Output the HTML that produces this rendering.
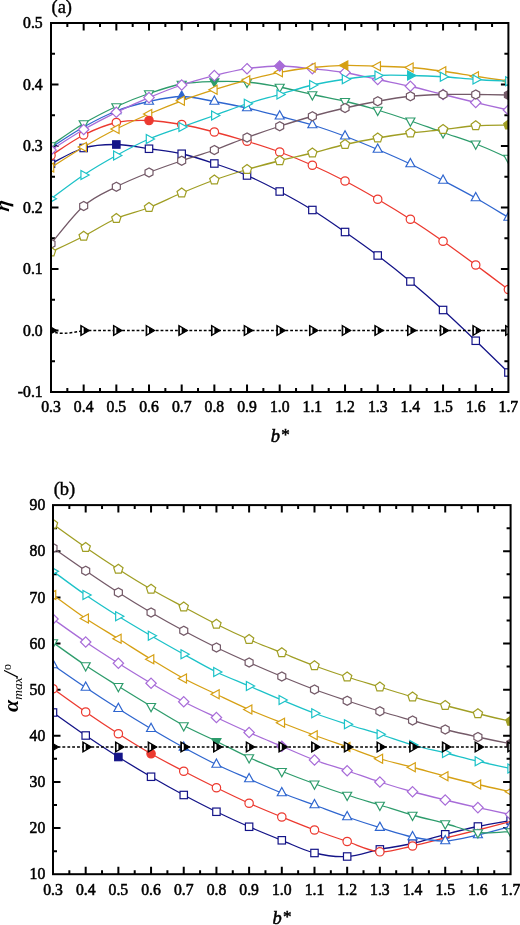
<!DOCTYPE html>
<html><head><meta charset="utf-8"><title>plot</title>
<style>
html,body{margin:0;padding:0;background:#fff;}
body{width:520px;height:925px;overflow:hidden;position:relative;}
svg{position:absolute;left:0;top:0;}
.tl{font-family:"Liberation Serif",serif;font-size:15.7px;fill:#000;stroke:#000;stroke-width:0.55px;}
.pl{font-family:"Liberation Serif",serif;font-size:18.5px;fill:#000;stroke:#000;stroke-width:0.4px;}
.bx{font-family:"Liberation Serif",serif;font-style:italic;font-size:18.5px;fill:#000;stroke:#000;stroke-width:0.5px;}
.ax{font-family:"Liberation Serif",serif;font-weight:bold;font-style:italic;font-size:20px;fill:#000;}
</style></head><body>
<svg width="520" height="925" viewBox="0 0 520 925">
<text x="51.5" y="13.1" class="pl">(a)</text>
<text x="53.7" y="494.8" class="pl">(b)</text>
<text transform="translate(8.7,206.5) rotate(-90) skewX(-8)" text-anchor="middle" class="ax" font-size="22px">&#951;</text>
<text x="280.3" y="442.3" text-anchor="middle" class="bx">b<tspan font-style="normal" dx="1.3" dy="-1.9" font-size="17px">*</tspan></text>
<text x="282" y="923.8" text-anchor="middle" class="bx">b<tspan font-style="normal" dx="1.3" dy="-1.9" font-size="17px">*</tspan></text>
<text transform="translate(18,688) rotate(-90)" text-anchor="middle" class="ax"><tspan font-size="22px">&#945;</tspan><tspan font-size="13.5px" font-weight="normal" dy="4">max</tspan><tspan dy="-4" dx="0.5">/</tspan><tspan font-style="normal" font-weight="normal" font-size="12px" dy="-7" dx="1.2">o</tspan></text>
<path d="M83.67,23v7.5M83.67,392v-7.5M116.34,23v7.5M116.34,392v-7.5M149.01,23v7.5M149.01,392v-7.5M181.69,23v7.5M181.69,392v-7.5M214.36,23v7.5M214.36,392v-7.5M247.03,23v7.5M247.03,392v-7.5M279.7,23v7.5M279.7,392v-7.5M312.37,23v7.5M312.37,392v-7.5M345.04,23v7.5M345.04,392v-7.5M377.71,23v7.5M377.71,392v-7.5M410.39,23v7.5M410.39,392v-7.5M443.06,23v7.5M443.06,392v-7.5M475.73,23v7.5M475.73,392v-7.5M67.34,23v4M67.34,392v-4M100.01,23v4M100.01,392v-4M132.68,23v4M132.68,392v-4M165.35,23v4M165.35,392v-4M198.02,23v4M198.02,392v-4M230.69,23v4M230.69,392v-4M263.36,23v4M263.36,392v-4M296.04,23v4M296.04,392v-4M328.71,23v4M328.71,392v-4M361.38,23v4M361.38,392v-4M394.05,23v4M394.05,392v-4M426.72,23v4M426.72,392v-4M459.39,23v4M459.39,392v-4M492.06,23v4M492.06,392v-4M51,330.5h7.5M508.4,330.5h-7.5M51,269h7.5M508.4,269h-7.5M51,207.5h7.5M508.4,207.5h-7.5M51,146h7.5M508.4,146h-7.5M51,84.5h7.5M508.4,84.5h-7.5M51,361.25h4M508.4,361.25h-4M51,299.75h4M508.4,299.75h-4M51,238.25h4M508.4,238.25h-4M51,176.75h4M508.4,176.75h-4M51,115.25h4M508.4,115.25h-4M51,53.75h4M508.4,53.75h-4" stroke="#000" stroke-width="2" fill="none"/>
<clipPath id="ca"><rect x="51" y="23" width="457.4" height="369"/></clipPath>
<g clip-path="url(#ca)">
<path d="M51,163.75C56.45,161.12 72.78,151.21 83.67,148C94.56,144.79 105.45,144.38 116.34,144.5C127.23,144.62 138.12,147.21 149.01,148.75C159.9,150.29 170.8,151.29 181.69,153.75C192.58,156.21 203.47,159.88 214.36,163.5C225.25,167.12 236.14,170.83 247.03,175.5C257.92,180.17 268.81,185.75 279.7,191.5C290.59,197.25 301.48,203.25 312.37,210C323.26,216.75 334.15,224.42 345.04,232C355.93,239.58 366.82,247.25 377.71,255.5C388.6,263.75 399.5,272.42 410.39,281.5C421.28,290.58 432.17,300.12 443.06,310C453.95,319.88 464.84,330.33 475.73,340.75C486.62,351.17 502.95,367.21 508.4,372.5" fill="none" stroke="#141488" stroke-width="1.3"/>
<rect x="47.3" y="160.05" width="7.4" height="7.4" fill="#fff" stroke="#141488" stroke-width="1.2"/>
<rect x="79.97" y="144.3" width="7.4" height="7.4" fill="#fff" stroke="#141488" stroke-width="1.2"/>
<rect x="112.64" y="140.8" width="7.4" height="7.4" fill="#141488" stroke="#141488" stroke-width="1.2"/>
<rect x="145.31" y="145.05" width="7.4" height="7.4" fill="#fff" stroke="#141488" stroke-width="1.2"/>
<rect x="177.99" y="150.05" width="7.4" height="7.4" fill="#fff" stroke="#141488" stroke-width="1.2"/>
<rect x="210.66" y="159.8" width="7.4" height="7.4" fill="#fff" stroke="#141488" stroke-width="1.2"/>
<rect x="243.33" y="171.8" width="7.4" height="7.4" fill="#fff" stroke="#141488" stroke-width="1.2"/>
<rect x="276" y="187.8" width="7.4" height="7.4" fill="#fff" stroke="#141488" stroke-width="1.2"/>
<rect x="308.67" y="206.3" width="7.4" height="7.4" fill="#fff" stroke="#141488" stroke-width="1.2"/>
<rect x="341.34" y="228.3" width="7.4" height="7.4" fill="#fff" stroke="#141488" stroke-width="1.2"/>
<rect x="374.01" y="251.8" width="7.4" height="7.4" fill="#fff" stroke="#141488" stroke-width="1.2"/>
<rect x="406.69" y="277.8" width="7.4" height="7.4" fill="#fff" stroke="#141488" stroke-width="1.2"/>
<rect x="439.36" y="306.3" width="7.4" height="7.4" fill="#fff" stroke="#141488" stroke-width="1.2"/>
<rect x="472.03" y="337.05" width="7.4" height="7.4" fill="#fff" stroke="#141488" stroke-width="1.2"/>
<rect x="504.7" y="368.8" width="7.4" height="7.4" fill="#fff" stroke="#141488" stroke-width="1.2"/>
<path d="M51,155.5C56.45,152.08 72.78,140.5 83.67,135C94.56,129.5 105.45,124.92 116.34,122.5C127.23,120.08 138.12,120.17 149.01,120.5C159.9,120.83 170.8,122.58 181.69,124.5C192.58,126.42 203.47,129.21 214.36,132C225.25,134.79 236.14,137.92 247.03,141.25C257.92,144.58 268.81,148 279.7,152C290.59,156 301.48,160.42 312.37,165.25C323.26,170.08 334.15,175.33 345.04,181C355.93,186.67 366.82,192.88 377.71,199.25C388.6,205.62 399.5,212.25 410.39,219.25C421.28,226.25 432.17,233.62 443.06,241.25C453.95,248.88 464.84,256.96 475.73,265C486.62,273.04 502.95,285.42 508.4,289.5" fill="none" stroke="#ec3a30" stroke-width="1.3"/>
<circle cx="51" cy="155.5" r="4.2" fill="#fff" stroke="#ec3a30" stroke-width="1.2"/>
<circle cx="83.67" cy="135" r="4.2" fill="#fff" stroke="#ec3a30" stroke-width="1.2"/>
<circle cx="116.34" cy="122.5" r="4.2" fill="#fff" stroke="#ec3a30" stroke-width="1.2"/>
<circle cx="181.69" cy="124.5" r="4.2" fill="#fff" stroke="#ec3a30" stroke-width="1.2"/>
<circle cx="214.36" cy="132" r="4.2" fill="#fff" stroke="#ec3a30" stroke-width="1.2"/>
<circle cx="247.03" cy="141.25" r="4.2" fill="#fff" stroke="#ec3a30" stroke-width="1.2"/>
<circle cx="279.7" cy="152" r="4.2" fill="#fff" stroke="#ec3a30" stroke-width="1.2"/>
<circle cx="312.37" cy="165.25" r="4.2" fill="#fff" stroke="#ec3a30" stroke-width="1.2"/>
<circle cx="345.04" cy="181" r="4.2" fill="#fff" stroke="#ec3a30" stroke-width="1.2"/>
<circle cx="377.71" cy="199.25" r="4.2" fill="#fff" stroke="#ec3a30" stroke-width="1.2"/>
<circle cx="410.39" cy="219.25" r="4.2" fill="#fff" stroke="#ec3a30" stroke-width="1.2"/>
<circle cx="443.06" cy="241.25" r="4.2" fill="#fff" stroke="#ec3a30" stroke-width="1.2"/>
<circle cx="475.73" cy="265" r="4.2" fill="#fff" stroke="#ec3a30" stroke-width="1.2"/>
<circle cx="508.4" cy="289.5" r="4.2" fill="#fff" stroke="#ec3a30" stroke-width="1.2"/>
<path d="M51,147.5C56.45,144.08 72.78,133.08 83.67,127C94.56,120.92 105.45,115.25 116.34,111C127.23,106.75 138.12,103.92 149.01,101.5C159.9,99.08 170.8,96.5 181.69,96.5C192.58,96.5 203.47,99.58 214.36,101.5C225.25,103.42 236.14,105.54 247.03,108C257.92,110.46 268.81,113.42 279.7,116.25C290.59,119.08 301.48,121.67 312.37,125C323.26,128.33 334.15,132.17 345.04,136.25C355.93,140.33 366.82,144.88 377.71,149.5C388.6,154.12 399.5,158.83 410.39,164C421.28,169.17 432.17,174.83 443.06,180.5C453.95,186.17 464.84,191.83 475.73,198C486.62,204.17 502.95,214.25 508.4,217.5" fill="none" stroke="#2f66cf" stroke-width="1.3"/>
<polygon points="51,142.03 55.5,150.23 46.5,150.23" fill="#fff" stroke="#2f66cf" stroke-width="1.2"/>
<polygon points="83.67,121.53 88.17,129.73 79.17,129.73" fill="#fff" stroke="#2f66cf" stroke-width="1.2"/>
<polygon points="116.34,105.53 120.84,113.73 111.84,113.73" fill="#fff" stroke="#2f66cf" stroke-width="1.2"/>
<polygon points="149.01,96.03 153.51,104.23 144.51,104.23" fill="#fff" stroke="#2f66cf" stroke-width="1.2"/>
<polygon points="181.69,91.03 186.19,99.23 177.19,99.23" fill="#2f66cf" stroke="#2f66cf" stroke-width="1.2"/>
<polygon points="214.36,96.03 218.86,104.23 209.86,104.23" fill="#fff" stroke="#2f66cf" stroke-width="1.2"/>
<polygon points="247.03,102.53 251.53,110.73 242.53,110.73" fill="#fff" stroke="#2f66cf" stroke-width="1.2"/>
<polygon points="279.7,110.78 284.2,118.98 275.2,118.98" fill="#fff" stroke="#2f66cf" stroke-width="1.2"/>
<polygon points="312.37,119.53 316.87,127.73 307.87,127.73" fill="#fff" stroke="#2f66cf" stroke-width="1.2"/>
<polygon points="345.04,130.78 349.54,138.98 340.54,138.98" fill="#fff" stroke="#2f66cf" stroke-width="1.2"/>
<polygon points="377.71,144.03 382.21,152.23 373.21,152.23" fill="#fff" stroke="#2f66cf" stroke-width="1.2"/>
<polygon points="410.39,158.53 414.89,166.73 405.89,166.73" fill="#fff" stroke="#2f66cf" stroke-width="1.2"/>
<polygon points="443.06,175.03 447.56,183.23 438.56,183.23" fill="#fff" stroke="#2f66cf" stroke-width="1.2"/>
<polygon points="475.73,192.53 480.23,200.73 471.23,200.73" fill="#fff" stroke="#2f66cf" stroke-width="1.2"/>
<polygon points="508.4,212.03 512.9,220.23 503.9,220.23" fill="#fff" stroke="#2f66cf" stroke-width="1.2"/>
<path d="M51,145.5C56.45,141.83 72.78,130 83.67,123.5C94.56,117 105.45,111.5 116.34,106.5C127.23,101.5 138.12,97.25 149.01,93.5C159.9,89.75 170.8,86 181.69,84C192.58,82 203.47,81.83 214.36,81.5C225.25,81.17 236.14,81.08 247.03,82C257.92,82.92 268.81,84.92 279.7,87C290.59,89.08 301.48,92.12 312.37,94.5C323.26,96.88 334.15,98.67 345.04,101.25C355.93,103.83 366.82,106.75 377.71,110C388.6,113.25 399.5,117 410.39,120.75C421.28,124.5 432.17,128.67 443.06,132.5C453.95,136.33 464.84,139.5 475.73,143.75C486.62,148 502.95,155.62 508.4,158" fill="none" stroke="#2e9c6c" stroke-width="1.3"/>
<polygon points="51,150.97 55.5,142.77 46.5,142.77" fill="#fff" stroke="#2e9c6c" stroke-width="1.2"/>
<polygon points="83.67,128.97 88.17,120.77 79.17,120.77" fill="#fff" stroke="#2e9c6c" stroke-width="1.2"/>
<polygon points="116.34,111.97 120.84,103.77 111.84,103.77" fill="#fff" stroke="#2e9c6c" stroke-width="1.2"/>
<polygon points="149.01,98.97 153.51,90.77 144.51,90.77" fill="#fff" stroke="#2e9c6c" stroke-width="1.2"/>
<polygon points="181.69,89.47 186.19,81.27 177.19,81.27" fill="#fff" stroke="#2e9c6c" stroke-width="1.2"/>
<polygon points="214.36,86.97 218.86,78.77 209.86,78.77" fill="#2e9c6c" stroke="#2e9c6c" stroke-width="1.2"/>
<polygon points="247.03,87.47 251.53,79.27 242.53,79.27" fill="#fff" stroke="#2e9c6c" stroke-width="1.2"/>
<polygon points="279.7,92.47 284.2,84.27 275.2,84.27" fill="#fff" stroke="#2e9c6c" stroke-width="1.2"/>
<polygon points="312.37,99.97 316.87,91.77 307.87,91.77" fill="#fff" stroke="#2e9c6c" stroke-width="1.2"/>
<polygon points="345.04,106.72 349.54,98.52 340.54,98.52" fill="#fff" stroke="#2e9c6c" stroke-width="1.2"/>
<polygon points="377.71,115.47 382.21,107.27 373.21,107.27" fill="#fff" stroke="#2e9c6c" stroke-width="1.2"/>
<polygon points="410.39,126.22 414.89,118.02 405.89,118.02" fill="#fff" stroke="#2e9c6c" stroke-width="1.2"/>
<polygon points="443.06,137.97 447.56,129.77 438.56,129.77" fill="#fff" stroke="#2e9c6c" stroke-width="1.2"/>
<polygon points="475.73,149.22 480.23,141.02 471.23,141.02" fill="#fff" stroke="#2e9c6c" stroke-width="1.2"/>
<polygon points="508.4,163.47 512.9,155.27 503.9,155.27" fill="#fff" stroke="#2e9c6c" stroke-width="1.2"/>
<path d="M51,150C56.45,146.58 72.78,135.78 83.67,129.5C94.56,123.22 105.45,117.62 116.34,112.3C127.23,106.98 138.12,102.15 149.01,97.6C159.9,93.05 170.8,88.67 181.69,85C192.58,81.33 203.47,78.32 214.36,75.6C225.25,72.88 236.14,70.3 247.03,68.7C257.92,67.1 268.81,65.99 279.7,66C290.59,66.01 301.48,67.67 312.37,68.75C323.26,69.83 334.15,70.71 345.04,72.5C355.93,74.29 366.82,77.21 377.71,79.5C388.6,81.79 399.5,83.75 410.39,86.25C421.28,88.75 432.17,91.79 443.06,94.5C453.95,97.21 464.84,99.92 475.73,102.5C486.62,105.08 502.95,108.75 508.4,110" fill="none" stroke="#a86cd8" stroke-width="1.3"/>
<polygon points="51,144.8 56.2,150 51,155.2 45.8,150" fill="#fff" stroke="#a86cd8" stroke-width="1.2"/>
<polygon points="83.67,124.3 88.87,129.5 83.67,134.7 78.47,129.5" fill="#fff" stroke="#a86cd8" stroke-width="1.2"/>
<polygon points="116.34,107.1 121.54,112.3 116.34,117.5 111.14,112.3" fill="#fff" stroke="#a86cd8" stroke-width="1.2"/>
<polygon points="149.01,92.4 154.21,97.6 149.01,102.8 143.81,97.6" fill="#fff" stroke="#a86cd8" stroke-width="1.2"/>
<polygon points="181.69,79.8 186.89,85 181.69,90.2 176.49,85" fill="#fff" stroke="#a86cd8" stroke-width="1.2"/>
<polygon points="214.36,70.4 219.56,75.6 214.36,80.8 209.16,75.6" fill="#fff" stroke="#a86cd8" stroke-width="1.2"/>
<polygon points="247.03,63.5 252.23,68.7 247.03,73.9 241.83,68.7" fill="#fff" stroke="#a86cd8" stroke-width="1.2"/>
<polygon points="312.37,63.55 317.57,68.75 312.37,73.95 307.17,68.75" fill="#fff" stroke="#a86cd8" stroke-width="1.2"/>
<polygon points="345.04,67.3 350.24,72.5 345.04,77.7 339.84,72.5" fill="#fff" stroke="#a86cd8" stroke-width="1.2"/>
<polygon points="377.71,74.3 382.91,79.5 377.71,84.7 372.51,79.5" fill="#fff" stroke="#a86cd8" stroke-width="1.2"/>
<polygon points="410.39,81.05 415.59,86.25 410.39,91.45 405.19,86.25" fill="#fff" stroke="#a86cd8" stroke-width="1.2"/>
<polygon points="443.06,89.3 448.26,94.5 443.06,99.7 437.86,94.5" fill="#fff" stroke="#a86cd8" stroke-width="1.2"/>
<polygon points="475.73,97.3 480.93,102.5 475.73,107.7 470.53,102.5" fill="#fff" stroke="#a86cd8" stroke-width="1.2"/>
<polygon points="508.4,104.8 513.6,110 508.4,115.2 503.2,110" fill="#fff" stroke="#a86cd8" stroke-width="1.2"/>
<path d="M51,167.5C56.45,164.08 72.78,153.42 83.67,147C94.56,140.58 105.45,134.5 116.34,129C127.23,123.5 138.12,118.7 149.01,114C159.9,109.3 170.8,104.85 181.69,100.8C192.58,96.75 203.47,93.13 214.36,89.7C225.25,86.27 236.14,83.1 247.03,80.2C257.92,77.3 268.81,74.42 279.7,72.3C290.59,70.18 301.48,68.65 312.37,67.5C323.26,66.35 334.15,65.61 345.04,65.4C355.93,65.19 366.82,65.9 377.71,66.25C388.6,66.6 399.5,66.67 410.39,67.5C421.28,68.33 432.17,69.79 443.06,71.25C453.95,72.71 464.84,74.62 475.73,76.25C486.62,77.88 502.95,80.21 508.4,81" fill="none" stroke="#d6a014" stroke-width="1.3"/>
<polygon points="45.53,167.5 53.73,163 53.73,172" fill="#fff" stroke="#d6a014" stroke-width="1.2"/>
<polygon points="78.2,147 86.4,142.5 86.4,151.5" fill="#fff" stroke="#d6a014" stroke-width="1.2"/>
<polygon points="110.88,129 119.08,124.5 119.08,133.5" fill="#fff" stroke="#d6a014" stroke-width="1.2"/>
<polygon points="143.55,114 151.75,109.5 151.75,118.5" fill="#fff" stroke="#d6a014" stroke-width="1.2"/>
<polygon points="176.22,100.8 184.42,96.3 184.42,105.3" fill="#fff" stroke="#d6a014" stroke-width="1.2"/>
<polygon points="208.89,89.7 217.09,85.2 217.09,94.2" fill="#fff" stroke="#d6a014" stroke-width="1.2"/>
<polygon points="241.56,80.2 249.76,75.7 249.76,84.7" fill="#fff" stroke="#d6a014" stroke-width="1.2"/>
<polygon points="274.23,72.3 282.43,67.8 282.43,76.8" fill="#fff" stroke="#d6a014" stroke-width="1.2"/>
<polygon points="306.9,67.5 315.1,63 315.1,72" fill="#fff" stroke="#d6a014" stroke-width="1.2"/>
<polygon points="339.58,65.4 347.78,60.9 347.78,69.9" fill="#d6a014" stroke="#d6a014" stroke-width="1.2"/>
<polygon points="372.25,66.25 380.45,61.75 380.45,70.75" fill="#fff" stroke="#d6a014" stroke-width="1.2"/>
<polygon points="404.92,67.5 413.12,63 413.12,72" fill="#fff" stroke="#d6a014" stroke-width="1.2"/>
<polygon points="437.59,71.25 445.79,66.75 445.79,75.75" fill="#fff" stroke="#d6a014" stroke-width="1.2"/>
<polygon points="470.26,76.25 478.46,71.75 478.46,80.75" fill="#fff" stroke="#d6a014" stroke-width="1.2"/>
<polygon points="502.93,81 511.13,76.5 511.13,85.5" fill="#fff" stroke="#d6a014" stroke-width="1.2"/>
<path d="M51,198.75C56.45,194.79 72.78,182.21 83.67,175C94.56,167.79 105.45,161.5 116.34,155.5C127.23,149.5 138.12,143.75 149.01,139C159.9,134.25 170.8,130.92 181.69,127C192.58,123.08 203.47,119.38 214.36,115.5C225.25,111.62 236.14,107.25 247.03,103.75C257.92,100.25 268.81,97.62 279.7,94.5C290.59,91.38 301.48,87.54 312.37,85C323.26,82.46 334.15,80.83 345.04,79.25C355.93,77.67 366.82,76.12 377.71,75.5C388.6,74.88 399.5,75.29 410.39,75.5C421.28,75.71 432.17,76.08 443.06,76.75C453.95,77.42 464.84,78.75 475.73,79.5C486.62,80.25 502.95,80.96 508.4,81.25" fill="none" stroke="#1cc2c8" stroke-width="1.3"/>
<polygon points="56.47,198.75 48.27,194.25 48.27,203.25" fill="#fff" stroke="#1cc2c8" stroke-width="1.2"/>
<polygon points="89.14,175 80.94,170.5 80.94,179.5" fill="#fff" stroke="#1cc2c8" stroke-width="1.2"/>
<polygon points="121.81,155.5 113.61,151 113.61,160" fill="#fff" stroke="#1cc2c8" stroke-width="1.2"/>
<polygon points="154.48,139 146.28,134.5 146.28,143.5" fill="#fff" stroke="#1cc2c8" stroke-width="1.2"/>
<polygon points="187.15,127 178.95,122.5 178.95,131.5" fill="#fff" stroke="#1cc2c8" stroke-width="1.2"/>
<polygon points="219.82,115.5 211.62,111 211.62,120" fill="#fff" stroke="#1cc2c8" stroke-width="1.2"/>
<polygon points="252.5,103.75 244.3,99.25 244.3,108.25" fill="#fff" stroke="#1cc2c8" stroke-width="1.2"/>
<polygon points="285.17,94.5 276.97,90 276.97,99" fill="#fff" stroke="#1cc2c8" stroke-width="1.2"/>
<polygon points="317.84,85 309.64,80.5 309.64,89.5" fill="#fff" stroke="#1cc2c8" stroke-width="1.2"/>
<polygon points="350.51,79.25 342.31,74.75 342.31,83.75" fill="#fff" stroke="#1cc2c8" stroke-width="1.2"/>
<polygon points="383.18,75.5 374.98,71 374.98,80" fill="#fff" stroke="#1cc2c8" stroke-width="1.2"/>
<polygon points="415.85,75.5 407.65,71 407.65,80" fill="#1cc2c8" stroke="#1cc2c8" stroke-width="1.2"/>
<polygon points="448.52,76.75 440.32,72.25 440.32,81.25" fill="#fff" stroke="#1cc2c8" stroke-width="1.2"/>
<polygon points="481.2,79.5 473,75 473,84" fill="#fff" stroke="#1cc2c8" stroke-width="1.2"/>
<polygon points="513.87,81.25 505.67,76.75 505.67,85.75" fill="#fff" stroke="#1cc2c8" stroke-width="1.2"/>
<path d="M51,243.75C56.45,237.46 72.78,215.5 83.67,206C94.56,196.5 105.45,192.33 116.34,186.75C127.23,181.17 138.12,176.83 149.01,172.5C159.9,168.17 170.8,164.5 181.69,160.75C192.58,157 203.47,153.88 214.36,150C225.25,146.12 236.14,141.46 247.03,137.5C257.92,133.54 268.81,129.79 279.7,126.25C290.59,122.71 301.48,119.29 312.37,116.25C323.26,113.21 334.15,110.5 345.04,108C355.93,105.5 366.82,103.21 377.71,101.25C388.6,99.29 399.5,97.38 410.39,96.25C421.28,95.12 432.17,94.79 443.06,94.5C453.95,94.21 464.84,94.42 475.73,94.5C486.62,94.58 502.95,94.92 508.4,95" fill="none" stroke="#745a68" stroke-width="1.3"/>
<polygon points="51,239.15 47.02,241.45 47.02,246.05 51,248.35 54.98,246.05 54.98,241.45" fill="#fff" stroke="#745a68" stroke-width="1.2"/>
<polygon points="83.67,201.4 79.69,203.7 79.69,208.3 83.67,210.6 87.66,208.3 87.66,203.7" fill="#fff" stroke="#745a68" stroke-width="1.2"/>
<polygon points="116.34,182.15 112.36,184.45 112.36,189.05 116.34,191.35 120.33,189.05 120.33,184.45" fill="#fff" stroke="#745a68" stroke-width="1.2"/>
<polygon points="149.01,167.9 145.03,170.2 145.03,174.8 149.01,177.1 153,174.8 153,170.2" fill="#fff" stroke="#745a68" stroke-width="1.2"/>
<polygon points="181.69,156.15 177.7,158.45 177.7,163.05 181.69,165.35 185.67,163.05 185.67,158.45" fill="#fff" stroke="#745a68" stroke-width="1.2"/>
<polygon points="214.36,145.4 210.37,147.7 210.37,152.3 214.36,154.6 218.34,152.3 218.34,147.7" fill="#fff" stroke="#745a68" stroke-width="1.2"/>
<polygon points="247.03,132.9 243.04,135.2 243.04,139.8 247.03,142.1 251.01,139.8 251.01,135.2" fill="#fff" stroke="#745a68" stroke-width="1.2"/>
<polygon points="279.7,121.65 275.72,123.95 275.72,128.55 279.7,130.85 283.68,128.55 283.68,123.95" fill="#fff" stroke="#745a68" stroke-width="1.2"/>
<polygon points="312.37,111.65 308.39,113.95 308.39,118.55 312.37,120.85 316.36,118.55 316.36,113.95" fill="#fff" stroke="#745a68" stroke-width="1.2"/>
<polygon points="345.04,103.4 341.06,105.7 341.06,110.3 345.04,112.6 349.03,110.3 349.03,105.7" fill="#fff" stroke="#745a68" stroke-width="1.2"/>
<polygon points="377.71,96.65 373.73,98.95 373.73,103.55 377.71,105.85 381.7,103.55 381.7,98.95" fill="#fff" stroke="#745a68" stroke-width="1.2"/>
<polygon points="410.39,91.65 406.4,93.95 406.4,98.55 410.39,100.85 414.37,98.55 414.37,93.95" fill="#fff" stroke="#745a68" stroke-width="1.2"/>
<polygon points="443.06,89.9 439.07,92.2 439.07,96.8 443.06,99.1 447.04,96.8 447.04,92.2" fill="#fff" stroke="#745a68" stroke-width="1.2"/>
<polygon points="475.73,89.9 471.74,92.2 471.74,96.8 475.73,99.1 479.71,96.8 479.71,92.2" fill="#fff" stroke="#745a68" stroke-width="1.2"/>
<polygon points="508.4,90.4 504.42,92.7 504.42,97.3 508.4,99.6 512.38,97.3 512.38,92.7" fill="#745a68" stroke="#745a68" stroke-width="1.2"/>
<path d="M51,252C56.45,249.38 72.78,241.83 83.67,236.25C94.56,230.67 105.45,223.29 116.34,218.5C127.23,213.71 138.12,211.75 149.01,207.5C159.9,203.25 170.8,197.58 181.69,193C192.58,188.42 203.47,183.92 214.36,180C225.25,176.08 236.14,172.71 247.03,169.5C257.92,166.29 268.81,163.5 279.7,160.75C290.59,158 301.48,155.71 312.37,153C323.26,150.29 334.15,147 345.04,144.5C355.93,142 366.82,139.92 377.71,138C388.6,136.08 399.5,134.42 410.39,133C421.28,131.58 432.17,130.71 443.06,129.5C453.95,128.29 464.84,126.5 475.73,125.75C486.62,125 502.95,125.12 508.4,125" fill="none" stroke="#a09e24" stroke-width="1.3"/>
<polygon points="51,247.1 46.34,250.49 48.12,255.96 53.88,255.96 55.66,250.49" fill="#fff" stroke="#a09e24" stroke-width="1.2"/>
<polygon points="83.67,231.35 79.01,234.74 80.79,240.21 86.55,240.21 88.33,234.74" fill="#fff" stroke="#a09e24" stroke-width="1.2"/>
<polygon points="116.34,213.6 111.68,216.99 113.46,222.46 119.22,222.46 121,216.99" fill="#fff" stroke="#a09e24" stroke-width="1.2"/>
<polygon points="149.01,202.6 144.35,205.99 146.13,211.46 151.89,211.46 153.67,205.99" fill="#fff" stroke="#a09e24" stroke-width="1.2"/>
<polygon points="181.69,188.1 177.03,191.49 178.81,196.96 184.57,196.96 186.35,191.49" fill="#fff" stroke="#a09e24" stroke-width="1.2"/>
<polygon points="214.36,175.1 209.7,178.49 211.48,183.96 217.24,183.96 219.02,178.49" fill="#fff" stroke="#a09e24" stroke-width="1.2"/>
<polygon points="247.03,164.6 242.37,167.99 244.15,173.46 249.91,173.46 251.69,167.99" fill="#fff" stroke="#a09e24" stroke-width="1.2"/>
<polygon points="279.7,155.85 275.04,159.24 276.82,164.71 282.58,164.71 284.36,159.24" fill="#fff" stroke="#a09e24" stroke-width="1.2"/>
<polygon points="312.37,148.1 307.71,151.49 309.49,156.96 315.25,156.96 317.03,151.49" fill="#fff" stroke="#a09e24" stroke-width="1.2"/>
<polygon points="345.04,139.6 340.38,142.99 342.16,148.46 347.92,148.46 349.7,142.99" fill="#fff" stroke="#a09e24" stroke-width="1.2"/>
<polygon points="377.71,133.1 373.05,136.49 374.83,141.96 380.59,141.96 382.37,136.49" fill="#fff" stroke="#a09e24" stroke-width="1.2"/>
<polygon points="410.39,128.1 405.73,131.49 407.51,136.96 413.27,136.96 415.05,131.49" fill="#fff" stroke="#a09e24" stroke-width="1.2"/>
<polygon points="443.06,124.6 438.4,127.99 440.18,133.46 445.94,133.46 447.72,127.99" fill="#fff" stroke="#a09e24" stroke-width="1.2"/>
<polygon points="475.73,120.85 471.07,124.24 472.85,129.71 478.61,129.71 480.39,124.24" fill="#fff" stroke="#a09e24" stroke-width="1.2"/>
<polygon points="508.4,120.1 503.74,123.49 505.52,128.96 511.28,128.96 513.06,123.49" fill="#a09e24" stroke="#a09e24" stroke-width="1.2"/>
<circle cx="149.01" cy="120.5" r="4.2" fill="#ec3a30" stroke="#ec3a30" stroke-width="1.2"/>
<polygon points="279.7,60.8 284.9,66 279.7,71.2 274.5,66" fill="#a86cd8" stroke="#a86cd8" stroke-width="1.2"/>
<path d="M51,330.4C55.5,335 70.5,333.5 83.7,330.5L508.5,330.5" fill="none" stroke="#000" stroke-width="1.45" stroke-dasharray="2.8,2.0"/>
<polygon points="48.13,325.4 56.73,330.4 48.13,335.4" fill="#000" stroke="#000" stroke-width="1.1"/><polygon points="49.23,327 51,327.97 51,332.83 49.23,333.8" fill="#fff"/>
<polygon points="80.8,325.5 89.4,330.5 80.8,335.5" fill="#000" stroke="#000" stroke-width="1.1"/><polygon points="81.9,327.1 83.67,328.07 83.67,332.93 81.9,333.9" fill="#fff"/>
<polygon points="113.48,325.5 122.08,330.5 113.48,335.5" fill="#000" stroke="#000" stroke-width="1.1"/><polygon points="114.58,327.1 116.34,328.07 116.34,332.93 114.58,333.9" fill="#fff"/>
<polygon points="146.15,325.5 154.75,330.5 146.15,335.5" fill="#000" stroke="#000" stroke-width="1.1"/><polygon points="147.25,327.1 149.01,328.07 149.01,332.93 147.25,333.9" fill="#fff"/>
<polygon points="178.82,325.5 187.42,330.5 178.82,335.5" fill="#000" stroke="#000" stroke-width="1.1"/><polygon points="179.92,327.1 181.69,328.07 181.69,332.93 179.92,333.9" fill="#fff"/>
<polygon points="211.49,325.5 220.09,330.5 211.49,335.5" fill="#000" stroke="#000" stroke-width="1.1"/><polygon points="212.59,327.1 214.36,328.07 214.36,332.93 212.59,333.9" fill="#fff"/>
<polygon points="244.16,325.5 252.76,330.5 244.16,335.5" fill="#000" stroke="#000" stroke-width="1.1"/><polygon points="245.26,327.1 247.03,328.07 247.03,332.93 245.26,333.9" fill="#fff"/>
<polygon points="276.83,325.5 285.43,330.5 276.83,335.5" fill="#000" stroke="#000" stroke-width="1.1"/><polygon points="277.93,327.1 279.7,328.07 279.7,332.93 277.93,333.9" fill="#fff"/>
<polygon points="309.5,325.5 318.1,330.5 309.5,335.5" fill="#000" stroke="#000" stroke-width="1.1"/><polygon points="310.6,327.1 312.37,328.07 312.37,332.93 310.6,333.9" fill="#fff"/>
<polygon points="342.18,325.5 350.78,330.5 342.18,335.5" fill="#000" stroke="#000" stroke-width="1.1"/><polygon points="343.28,327.1 345.04,328.07 345.04,332.93 343.28,333.9" fill="#fff"/>
<polygon points="374.85,325.5 383.45,330.5 374.85,335.5" fill="#000" stroke="#000" stroke-width="1.1"/><polygon points="375.95,327.1 377.71,328.07 377.71,332.93 375.95,333.9" fill="#fff"/>
<polygon points="407.52,325.5 416.12,330.5 407.52,335.5" fill="#000" stroke="#000" stroke-width="1.1"/><polygon points="408.62,327.1 410.39,328.07 410.39,332.93 408.62,333.9" fill="#fff"/>
<polygon points="440.19,325.5 448.79,330.5 440.19,335.5" fill="#000" stroke="#000" stroke-width="1.1"/><polygon points="441.29,327.1 443.06,328.07 443.06,332.93 441.29,333.9" fill="#fff"/>
<polygon points="472.86,325.5 481.46,330.5 472.86,335.5" fill="#000" stroke="#000" stroke-width="1.1"/><polygon points="473.96,327.1 475.73,328.07 475.73,332.93 473.96,333.9" fill="#fff"/>
<polygon points="505.53,325.5 514.13,330.5 505.53,335.5" fill="#000" stroke="#000" stroke-width="1.1"/><polygon points="506.63,327.1 508.4,328.07 508.4,332.93 506.63,333.9" fill="#fff"/>
</g>
<rect x="51" y="23" width="457.4" height="369" fill="none" stroke="#000" stroke-width="2"/>
<text x="42.7" y="28.2" text-anchor="end" class="tl">0.5</text>
<text x="42.7" y="89.7" text-anchor="end" class="tl">0.4</text>
<text x="42.7" y="151.2" text-anchor="end" class="tl">0.3</text>
<text x="42.7" y="212.7" text-anchor="end" class="tl">0.2</text>
<text x="42.7" y="274.2" text-anchor="end" class="tl">0.1</text>
<text x="42.7" y="335.7" text-anchor="end" class="tl">0.0</text>
<text x="42.7" y="397.2" text-anchor="end" class="tl">-0.1</text>
<path d="M85.69,505.1v7.5M85.69,874.2v-7.5M118.37,505.1v7.5M118.37,874.2v-7.5M151.06,505.1v7.5M151.06,874.2v-7.5M183.74,505.1v7.5M183.74,874.2v-7.5M216.43,505.1v7.5M216.43,874.2v-7.5M249.11,505.1v7.5M249.11,874.2v-7.5M281.8,505.1v7.5M281.8,874.2v-7.5M314.49,505.1v7.5M314.49,874.2v-7.5M347.17,505.1v7.5M347.17,874.2v-7.5M379.86,505.1v7.5M379.86,874.2v-7.5M412.54,505.1v7.5M412.54,874.2v-7.5M445.23,505.1v7.5M445.23,874.2v-7.5M477.91,505.1v7.5M477.91,874.2v-7.5M69.34,505.1v4M69.34,874.2v-4M102.03,505.1v4M102.03,874.2v-4M134.71,505.1v4M134.71,874.2v-4M167.4,505.1v4M167.4,874.2v-4M200.09,505.1v4M200.09,874.2v-4M232.77,505.1v4M232.77,874.2v-4M265.46,505.1v4M265.46,874.2v-4M298.14,505.1v4M298.14,874.2v-4M330.83,505.1v4M330.83,874.2v-4M363.51,505.1v4M363.51,874.2v-4M396.2,505.1v4M396.2,874.2v-4M428.89,505.1v4M428.89,874.2v-4M461.57,505.1v4M461.57,874.2v-4M494.26,505.1v4M494.26,874.2v-4M53,828.06h7.5M510.6,828.06h-7.5M53,781.93h7.5M510.6,781.93h-7.5M53,735.79h7.5M510.6,735.79h-7.5M53,689.65h7.5M510.6,689.65h-7.5M53,643.51h7.5M510.6,643.51h-7.5M53,597.38h7.5M510.6,597.38h-7.5M53,551.24h7.5M510.6,551.24h-7.5M53,851.13h4M510.6,851.13h-4M53,804.99h4M510.6,804.99h-4M53,758.86h4M510.6,758.86h-4M53,712.72h4M510.6,712.72h-4M53,666.58h4M510.6,666.58h-4M53,620.44h4M510.6,620.44h-4M53,574.31h4M510.6,574.31h-4M53,528.17h4M510.6,528.17h-4" stroke="#000" stroke-width="2" fill="none"/>
<clipPath id="cb"><rect x="53" y="505.1" width="457.6" height="369.1"/></clipPath>
<g clip-path="url(#cb)">
<path d="M53,712.5C58.45,716.33 74.79,728.08 85.69,735.5C96.58,742.92 107.48,750.12 118.37,757C129.27,763.88 140.16,770.42 151.06,776.75C161.95,783.08 172.85,789.17 183.74,795C194.64,800.83 205.53,806.46 216.43,811.75C227.32,817.04 238.22,821.99 249.11,826.75C260.01,831.51 270.9,835.92 281.8,840.3C292.7,844.67 303.59,850.3 314.49,853C325.38,855.7 336.28,857.1 347.17,856.5C358.07,855.9 368.96,851.57 379.86,849.4C390.75,847.23 401.65,846.02 412.54,843.5C423.44,840.98 434.33,837.13 445.23,834.3C456.12,831.47 467.02,828.8 477.91,826.5C488.81,824.2 505.15,821.5 510.6,820.5" fill="none" stroke="#141488" stroke-width="1.3"/>
<rect x="49.3" y="708.8" width="7.4" height="7.4" fill="#fff" stroke="#141488" stroke-width="1.2"/>
<rect x="81.99" y="731.8" width="7.4" height="7.4" fill="#fff" stroke="#141488" stroke-width="1.2"/>
<rect x="114.67" y="753.3" width="7.4" height="7.4" fill="#141488" stroke="#141488" stroke-width="1.2"/>
<rect x="147.36" y="773.05" width="7.4" height="7.4" fill="#fff" stroke="#141488" stroke-width="1.2"/>
<rect x="180.04" y="791.3" width="7.4" height="7.4" fill="#fff" stroke="#141488" stroke-width="1.2"/>
<rect x="212.73" y="808.05" width="7.4" height="7.4" fill="#fff" stroke="#141488" stroke-width="1.2"/>
<rect x="245.41" y="823.05" width="7.4" height="7.4" fill="#fff" stroke="#141488" stroke-width="1.2"/>
<rect x="278.1" y="836.6" width="7.4" height="7.4" fill="#fff" stroke="#141488" stroke-width="1.2"/>
<rect x="310.79" y="849.3" width="7.4" height="7.4" fill="#fff" stroke="#141488" stroke-width="1.2"/>
<rect x="343.47" y="852.8" width="7.4" height="7.4" fill="#fff" stroke="#141488" stroke-width="1.2"/>
<rect x="376.16" y="845.7" width="7.4" height="7.4" fill="#fff" stroke="#141488" stroke-width="1.2"/>
<rect x="408.84" y="839.8" width="7.4" height="7.4" fill="#fff" stroke="#141488" stroke-width="1.2"/>
<rect x="441.53" y="830.6" width="7.4" height="7.4" fill="#fff" stroke="#141488" stroke-width="1.2"/>
<rect x="474.21" y="822.8" width="7.4" height="7.4" fill="#fff" stroke="#141488" stroke-width="1.2"/>
<rect x="506.9" y="816.8" width="7.4" height="7.4" fill="#fff" stroke="#141488" stroke-width="1.2"/>
<path d="M53,688.75C58.45,692.62 74.79,704.5 85.69,712C96.58,719.5 107.48,726.79 118.37,733.75C129.27,740.71 140.16,747.5 151.06,753.75C161.95,760 172.85,765.58 183.74,771.25C194.64,776.92 205.53,782.42 216.43,787.75C227.32,793.08 238.22,798.38 249.11,803.25C260.01,808.12 270.9,812.54 281.8,817C292.7,821.46 303.59,825.92 314.49,830C325.38,834.08 336.28,837.87 347.17,841.5C358.07,845.13 368.96,851.05 379.86,851.8C390.75,852.55 401.65,848.3 412.54,846C423.44,843.7 434.33,840.67 445.23,838C456.12,835.33 467.02,832.75 477.91,830C488.81,827.25 505.15,822.92 510.6,821.5" fill="none" stroke="#ec3a30" stroke-width="1.3"/>
<circle cx="53" cy="688.75" r="4.2" fill="#fff" stroke="#ec3a30" stroke-width="1.2"/>
<circle cx="85.69" cy="712" r="4.2" fill="#fff" stroke="#ec3a30" stroke-width="1.2"/>
<circle cx="118.37" cy="733.75" r="4.2" fill="#fff" stroke="#ec3a30" stroke-width="1.2"/>
<circle cx="183.74" cy="771.25" r="4.2" fill="#fff" stroke="#ec3a30" stroke-width="1.2"/>
<circle cx="216.43" cy="787.75" r="4.2" fill="#fff" stroke="#ec3a30" stroke-width="1.2"/>
<circle cx="249.11" cy="803.25" r="4.2" fill="#fff" stroke="#ec3a30" stroke-width="1.2"/>
<circle cx="281.8" cy="817" r="4.2" fill="#fff" stroke="#ec3a30" stroke-width="1.2"/>
<circle cx="314.49" cy="830" r="4.2" fill="#fff" stroke="#ec3a30" stroke-width="1.2"/>
<circle cx="347.17" cy="841.5" r="4.2" fill="#fff" stroke="#ec3a30" stroke-width="1.2"/>
<circle cx="379.86" cy="851.8" r="4.2" fill="#fff" stroke="#ec3a30" stroke-width="1.2"/>
<circle cx="412.54" cy="846" r="4.2" fill="#fff" stroke="#ec3a30" stroke-width="1.2"/>
<path d="M53,665C58.45,668.75 74.79,680.21 85.69,687.5C96.58,694.79 107.48,701.88 118.37,708.75C129.27,715.62 140.16,722.29 151.06,728.75C161.95,735.21 172.85,741.54 183.74,747.5C194.64,753.46 205.53,759.25 216.43,764.5C227.32,769.75 238.22,774.25 249.11,779C260.01,783.75 270.9,788.67 281.8,793C292.7,797.33 303.59,801 314.49,805C325.38,809 336.28,813.23 347.17,817C358.07,820.77 368.96,824.27 379.86,827.6C390.75,830.93 401.65,834.77 412.54,837C423.44,839.23 434.33,841.33 445.23,841C456.12,840.67 467.02,837.42 477.91,835C488.81,832.58 505.15,827.92 510.6,826.5" fill="none" stroke="#2f66cf" stroke-width="1.3"/>
<polygon points="53,659.53 57.5,667.73 48.5,667.73" fill="#fff" stroke="#2f66cf" stroke-width="1.2"/>
<polygon points="85.69,682.03 90.19,690.23 81.19,690.23" fill="#fff" stroke="#2f66cf" stroke-width="1.2"/>
<polygon points="118.37,703.28 122.87,711.48 113.87,711.48" fill="#fff" stroke="#2f66cf" stroke-width="1.2"/>
<polygon points="151.06,723.28 155.56,731.48 146.56,731.48" fill="#fff" stroke="#2f66cf" stroke-width="1.2"/>
<polygon points="183.74,742.03 188.24,750.23 179.24,750.23" fill="#2f66cf" stroke="#2f66cf" stroke-width="1.2"/>
<polygon points="216.43,759.03 220.93,767.23 211.93,767.23" fill="#fff" stroke="#2f66cf" stroke-width="1.2"/>
<polygon points="249.11,773.53 253.61,781.73 244.61,781.73" fill="#fff" stroke="#2f66cf" stroke-width="1.2"/>
<polygon points="281.8,787.53 286.3,795.73 277.3,795.73" fill="#fff" stroke="#2f66cf" stroke-width="1.2"/>
<polygon points="314.49,799.53 318.99,807.73 309.99,807.73" fill="#fff" stroke="#2f66cf" stroke-width="1.2"/>
<polygon points="347.17,811.53 351.67,819.73 342.67,819.73" fill="#fff" stroke="#2f66cf" stroke-width="1.2"/>
<polygon points="379.86,822.13 384.36,830.33 375.36,830.33" fill="#fff" stroke="#2f66cf" stroke-width="1.2"/>
<polygon points="412.54,831.53 417.04,839.73 408.04,839.73" fill="#fff" stroke="#2f66cf" stroke-width="1.2"/>
<polygon points="445.23,835.53 449.73,843.73 440.73,843.73" fill="#fff" stroke="#2f66cf" stroke-width="1.2"/>
<polygon points="477.91,829.53 482.41,837.73 473.41,837.73" fill="#fff" stroke="#2f66cf" stroke-width="1.2"/>
<polygon points="510.6,821.03 515.1,829.23 506.1,829.23" fill="#fff" stroke="#2f66cf" stroke-width="1.2"/>
<path d="M53,642.5C58.45,646.33 74.79,658.21 85.69,665.5C96.58,672.79 107.48,679.46 118.37,686.25C129.27,693.04 140.16,699.71 151.06,706.25C161.95,712.79 172.85,719.67 183.74,725.5C194.64,731.33 205.53,735.92 216.43,741.25C227.32,746.58 238.22,752.5 249.11,757.5C260.01,762.5 270.9,766.88 281.8,771.25C292.7,775.62 303.59,779.79 314.49,783.75C325.38,787.71 336.28,791.46 347.17,795C358.07,798.54 368.96,801.67 379.86,805C390.75,808.33 401.65,811.92 412.54,815C423.44,818.08 434.33,820.58 445.23,823.5C456.12,826.42 467.02,831.17 477.91,832.5C488.81,833.83 505.15,831.67 510.6,831.5" fill="none" stroke="#2e9c6c" stroke-width="1.3"/>
<polygon points="53,647.97 57.5,639.77 48.5,639.77" fill="#fff" stroke="#2e9c6c" stroke-width="1.2"/>
<polygon points="85.69,670.97 90.19,662.77 81.19,662.77" fill="#fff" stroke="#2e9c6c" stroke-width="1.2"/>
<polygon points="118.37,691.72 122.87,683.52 113.87,683.52" fill="#fff" stroke="#2e9c6c" stroke-width="1.2"/>
<polygon points="151.06,711.72 155.56,703.52 146.56,703.52" fill="#fff" stroke="#2e9c6c" stroke-width="1.2"/>
<polygon points="183.74,730.97 188.24,722.77 179.24,722.77" fill="#fff" stroke="#2e9c6c" stroke-width="1.2"/>
<polygon points="216.43,746.72 220.93,738.52 211.93,738.52" fill="#2e9c6c" stroke="#2e9c6c" stroke-width="1.2"/>
<polygon points="249.11,762.97 253.61,754.77 244.61,754.77" fill="#fff" stroke="#2e9c6c" stroke-width="1.2"/>
<polygon points="281.8,776.72 286.3,768.52 277.3,768.52" fill="#fff" stroke="#2e9c6c" stroke-width="1.2"/>
<polygon points="314.49,789.22 318.99,781.02 309.99,781.02" fill="#fff" stroke="#2e9c6c" stroke-width="1.2"/>
<polygon points="347.17,800.47 351.67,792.27 342.67,792.27" fill="#fff" stroke="#2e9c6c" stroke-width="1.2"/>
<polygon points="379.86,810.47 384.36,802.27 375.36,802.27" fill="#fff" stroke="#2e9c6c" stroke-width="1.2"/>
<polygon points="412.54,820.47 417.04,812.27 408.04,812.27" fill="#fff" stroke="#2e9c6c" stroke-width="1.2"/>
<polygon points="445.23,828.97 449.73,820.77 440.73,820.77" fill="#fff" stroke="#2e9c6c" stroke-width="1.2"/>
<polygon points="477.91,837.97 482.41,829.77 473.41,829.77" fill="#fff" stroke="#2e9c6c" stroke-width="1.2"/>
<polygon points="510.6,836.97 515.1,828.77 506.1,828.77" fill="#fff" stroke="#2e9c6c" stroke-width="1.2"/>
<path d="M53,619C58.45,622.83 74.79,634.62 85.69,642C96.58,649.38 107.48,656.38 118.37,663.25C129.27,670.12 140.16,676.83 151.06,683.25C161.95,689.67 172.85,696.04 183.74,701.75C194.64,707.46 205.53,712.38 216.43,717.5C227.32,722.62 238.22,727.71 249.11,732.5C260.01,737.29 270.9,741.67 281.8,746.25C292.7,750.83 303.59,755.92 314.49,760C325.38,764.08 336.28,767.08 347.17,770.75C358.07,774.42 368.96,778.5 379.86,782C390.75,785.5 401.65,788.75 412.54,791.75C423.44,794.75 434.33,797.36 445.23,800C456.12,802.64 467.02,805.17 477.91,807.6C488.81,810.03 505.15,813.43 510.6,814.6" fill="none" stroke="#a86cd8" stroke-width="1.3"/>
<polygon points="53,613.8 58.2,619 53,624.2 47.8,619" fill="#fff" stroke="#a86cd8" stroke-width="1.2"/>
<polygon points="85.69,636.8 90.89,642 85.69,647.2 80.49,642" fill="#fff" stroke="#a86cd8" stroke-width="1.2"/>
<polygon points="118.37,658.05 123.57,663.25 118.37,668.45 113.17,663.25" fill="#fff" stroke="#a86cd8" stroke-width="1.2"/>
<polygon points="151.06,678.05 156.26,683.25 151.06,688.45 145.86,683.25" fill="#fff" stroke="#a86cd8" stroke-width="1.2"/>
<polygon points="183.74,696.55 188.94,701.75 183.74,706.95 178.54,701.75" fill="#fff" stroke="#a86cd8" stroke-width="1.2"/>
<polygon points="216.43,712.3 221.63,717.5 216.43,722.7 211.23,717.5" fill="#fff" stroke="#a86cd8" stroke-width="1.2"/>
<polygon points="249.11,727.3 254.31,732.5 249.11,737.7 243.91,732.5" fill="#fff" stroke="#a86cd8" stroke-width="1.2"/>
<polygon points="314.49,754.8 319.69,760 314.49,765.2 309.29,760" fill="#fff" stroke="#a86cd8" stroke-width="1.2"/>
<polygon points="347.17,765.55 352.37,770.75 347.17,775.95 341.97,770.75" fill="#fff" stroke="#a86cd8" stroke-width="1.2"/>
<polygon points="379.86,776.8 385.06,782 379.86,787.2 374.66,782" fill="#fff" stroke="#a86cd8" stroke-width="1.2"/>
<polygon points="412.54,786.55 417.74,791.75 412.54,796.95 407.34,791.75" fill="#fff" stroke="#a86cd8" stroke-width="1.2"/>
<polygon points="445.23,794.8 450.43,800 445.23,805.2 440.03,800" fill="#fff" stroke="#a86cd8" stroke-width="1.2"/>
<polygon points="477.91,802.4 483.11,807.6 477.91,812.8 472.71,807.6" fill="#fff" stroke="#a86cd8" stroke-width="1.2"/>
<polygon points="510.6,809.4 515.8,814.6 510.6,819.8 505.4,814.6" fill="#fff" stroke="#a86cd8" stroke-width="1.2"/>
<path d="M53,595C58.45,598.92 74.79,611.21 85.69,618.5C96.58,625.79 107.48,631.96 118.37,638.75C129.27,645.54 140.16,652.62 151.06,659.25C161.95,665.88 172.85,672.67 183.74,678.5C194.64,684.33 205.53,689.08 216.43,694.25C227.32,699.42 238.22,704.75 249.11,709.5C260.01,714.25 270.9,718.46 281.8,722.75C292.7,727.04 303.59,731.21 314.49,735.25C325.38,739.29 336.28,743.08 347.17,747C358.07,750.92 368.96,755.38 379.86,758.75C390.75,762.12 401.65,764.33 412.54,767.25C423.44,770.17 434.33,773.38 445.23,776.25C456.12,779.12 467.02,781.92 477.91,784.5C488.81,787.08 505.15,790.54 510.6,791.75" fill="none" stroke="#d6a014" stroke-width="1.3"/>
<polygon points="47.53,595 55.73,590.5 55.73,599.5" fill="#fff" stroke="#d6a014" stroke-width="1.2"/>
<polygon points="80.22,618.5 88.42,614 88.42,623" fill="#fff" stroke="#d6a014" stroke-width="1.2"/>
<polygon points="112.9,638.75 121.1,634.25 121.1,643.25" fill="#fff" stroke="#d6a014" stroke-width="1.2"/>
<polygon points="145.59,659.25 153.79,654.75 153.79,663.75" fill="#fff" stroke="#d6a014" stroke-width="1.2"/>
<polygon points="178.28,678.5 186.48,674 186.48,683" fill="#fff" stroke="#d6a014" stroke-width="1.2"/>
<polygon points="210.96,694.25 219.16,689.75 219.16,698.75" fill="#fff" stroke="#d6a014" stroke-width="1.2"/>
<polygon points="243.65,709.5 251.85,705 251.85,714" fill="#fff" stroke="#d6a014" stroke-width="1.2"/>
<polygon points="276.33,722.75 284.53,718.25 284.53,727.25" fill="#fff" stroke="#d6a014" stroke-width="1.2"/>
<polygon points="309.02,735.25 317.22,730.75 317.22,739.75" fill="#fff" stroke="#d6a014" stroke-width="1.2"/>
<polygon points="341.7,747 349.9,742.5 349.9,751.5" fill="#d6a014" stroke="#d6a014" stroke-width="1.2"/>
<polygon points="374.39,758.75 382.59,754.25 382.59,763.25" fill="#fff" stroke="#d6a014" stroke-width="1.2"/>
<polygon points="407.08,767.25 415.28,762.75 415.28,771.75" fill="#fff" stroke="#d6a014" stroke-width="1.2"/>
<polygon points="439.76,776.25 447.96,771.75 447.96,780.75" fill="#fff" stroke="#d6a014" stroke-width="1.2"/>
<polygon points="472.45,784.5 480.65,780 480.65,789" fill="#fff" stroke="#d6a014" stroke-width="1.2"/>
<polygon points="505.13,791.75 513.33,787.25 513.33,796.25" fill="#fff" stroke="#d6a014" stroke-width="1.2"/>
<path d="M53,571.25C58.45,575.21 74.79,587.5 85.69,595C96.58,602.5 107.48,609.46 118.37,616.25C129.27,623.04 140.16,629.42 151.06,635.75C161.95,642.08 172.85,648.21 183.74,654.25C194.64,660.29 205.53,666.71 216.43,672C227.32,677.29 238.22,681.33 249.11,686C260.01,690.67 270.9,695.46 281.8,700C292.7,704.54 303.59,709.21 314.49,713.25C325.38,717.29 336.28,720.75 347.17,724.25C358.07,727.75 368.96,730.79 379.86,734.25C390.75,737.71 401.65,741.88 412.54,745C423.44,748.12 434.33,750.29 445.23,753C456.12,755.71 467.02,758.67 477.91,761.25C488.81,763.83 505.15,767.29 510.6,768.5" fill="none" stroke="#1cc2c8" stroke-width="1.3"/>
<polygon points="58.47,571.25 50.27,566.75 50.27,575.75" fill="#fff" stroke="#1cc2c8" stroke-width="1.2"/>
<polygon points="91.15,595 82.95,590.5 82.95,599.5" fill="#fff" stroke="#1cc2c8" stroke-width="1.2"/>
<polygon points="123.84,616.25 115.64,611.75 115.64,620.75" fill="#fff" stroke="#1cc2c8" stroke-width="1.2"/>
<polygon points="156.52,635.75 148.32,631.25 148.32,640.25" fill="#fff" stroke="#1cc2c8" stroke-width="1.2"/>
<polygon points="189.21,654.25 181.01,649.75 181.01,658.75" fill="#fff" stroke="#1cc2c8" stroke-width="1.2"/>
<polygon points="221.9,672 213.7,667.5 213.7,676.5" fill="#fff" stroke="#1cc2c8" stroke-width="1.2"/>
<polygon points="254.58,686 246.38,681.5 246.38,690.5" fill="#fff" stroke="#1cc2c8" stroke-width="1.2"/>
<polygon points="287.27,700 279.07,695.5 279.07,704.5" fill="#fff" stroke="#1cc2c8" stroke-width="1.2"/>
<polygon points="319.95,713.25 311.75,708.75 311.75,717.75" fill="#fff" stroke="#1cc2c8" stroke-width="1.2"/>
<polygon points="352.64,724.25 344.44,719.75 344.44,728.75" fill="#fff" stroke="#1cc2c8" stroke-width="1.2"/>
<polygon points="385.32,734.25 377.12,729.75 377.12,738.75" fill="#fff" stroke="#1cc2c8" stroke-width="1.2"/>
<polygon points="418.01,745 409.81,740.5 409.81,749.5" fill="#1cc2c8" stroke="#1cc2c8" stroke-width="1.2"/>
<polygon points="450.7,753 442.5,748.5 442.5,757.5" fill="#fff" stroke="#1cc2c8" stroke-width="1.2"/>
<polygon points="483.38,761.25 475.18,756.75 475.18,765.75" fill="#fff" stroke="#1cc2c8" stroke-width="1.2"/>
<polygon points="516.07,768.5 507.87,764 507.87,773" fill="#fff" stroke="#1cc2c8" stroke-width="1.2"/>
<path d="M53,548C58.45,551.79 74.79,563.33 85.69,570.75C96.58,578.17 107.48,585.54 118.37,592.5C129.27,599.46 140.16,606.12 151.06,612.5C161.95,618.88 172.85,624.92 183.74,630.75C194.64,636.58 205.53,642.21 216.43,647.5C227.32,652.79 238.22,657.67 249.11,662.5C260.01,667.33 270.9,672 281.8,676.5C292.7,681 303.59,685.46 314.49,689.5C325.38,693.54 336.28,697.12 347.17,700.75C358.07,704.38 368.96,707.96 379.86,711.25C390.75,714.54 401.65,717.46 412.54,720.5C423.44,723.54 434.33,726.75 445.23,729.5C456.12,732.25 467.02,734.62 477.91,737C488.81,739.38 505.15,742.62 510.6,743.75" fill="none" stroke="#745a68" stroke-width="1.3"/>
<polygon points="53,543.4 49.02,545.7 49.02,550.3 53,552.6 56.98,550.3 56.98,545.7" fill="#fff" stroke="#745a68" stroke-width="1.2"/>
<polygon points="85.69,566.15 81.7,568.45 81.7,573.05 85.69,575.35 89.67,573.05 89.67,568.45" fill="#fff" stroke="#745a68" stroke-width="1.2"/>
<polygon points="118.37,587.9 114.39,590.2 114.39,594.8 118.37,597.1 122.36,594.8 122.36,590.2" fill="#fff" stroke="#745a68" stroke-width="1.2"/>
<polygon points="151.06,607.9 147.07,610.2 147.07,614.8 151.06,617.1 155.04,614.8 155.04,610.2" fill="#fff" stroke="#745a68" stroke-width="1.2"/>
<polygon points="183.74,626.15 179.76,628.45 179.76,633.05 183.74,635.35 187.73,633.05 187.73,628.45" fill="#fff" stroke="#745a68" stroke-width="1.2"/>
<polygon points="216.43,642.9 212.44,645.2 212.44,649.8 216.43,652.1 220.41,649.8 220.41,645.2" fill="#fff" stroke="#745a68" stroke-width="1.2"/>
<polygon points="249.11,657.9 245.13,660.2 245.13,664.8 249.11,667.1 253.1,664.8 253.1,660.2" fill="#fff" stroke="#745a68" stroke-width="1.2"/>
<polygon points="281.8,671.9 277.82,674.2 277.82,678.8 281.8,681.1 285.78,678.8 285.78,674.2" fill="#fff" stroke="#745a68" stroke-width="1.2"/>
<polygon points="314.49,684.9 310.5,687.2 310.5,691.8 314.49,694.1 318.47,691.8 318.47,687.2" fill="#fff" stroke="#745a68" stroke-width="1.2"/>
<polygon points="347.17,696.15 343.19,698.45 343.19,703.05 347.17,705.35 351.16,703.05 351.16,698.45" fill="#fff" stroke="#745a68" stroke-width="1.2"/>
<polygon points="379.86,706.65 375.87,708.95 375.87,713.55 379.86,715.85 383.84,713.55 383.84,708.95" fill="#fff" stroke="#745a68" stroke-width="1.2"/>
<polygon points="412.54,715.9 408.56,718.2 408.56,722.8 412.54,725.1 416.53,722.8 416.53,718.2" fill="#fff" stroke="#745a68" stroke-width="1.2"/>
<polygon points="445.23,724.9 441.24,727.2 441.24,731.8 445.23,734.1 449.21,731.8 449.21,727.2" fill="#fff" stroke="#745a68" stroke-width="1.2"/>
<polygon points="477.91,732.4 473.93,734.7 473.93,739.3 477.91,741.6 481.9,739.3 481.9,734.7" fill="#fff" stroke="#745a68" stroke-width="1.2"/>
<polygon points="510.6,739.15 506.62,741.45 506.62,746.05 510.6,748.35 514.58,746.05 514.58,741.45" fill="#745a68" stroke="#745a68" stroke-width="1.2"/>
<path d="M53,524.25C58.45,528.12 74.79,540 85.69,547.5C96.58,555 107.48,562.29 118.37,569.25C129.27,576.21 140.16,582.96 151.06,589.25C161.95,595.54 172.85,601.17 183.74,607C194.64,612.83 205.53,618.83 216.43,624.25C227.32,629.67 238.22,634.75 249.11,639.5C260.01,644.25 270.9,648.38 281.8,652.75C292.7,657.12 303.59,661.71 314.49,665.75C325.38,669.79 336.28,673.46 347.17,677C358.07,680.54 368.96,683.68 379.86,687C390.75,690.32 401.65,693.82 412.54,696.9C423.44,699.98 434.33,702.69 445.23,705.5C456.12,708.31 467.02,711.12 477.91,713.75C488.81,716.38 505.15,720 510.6,721.25" fill="none" stroke="#a09e24" stroke-width="1.3"/>
<polygon points="53,519.35 48.34,522.74 50.12,528.21 55.88,528.21 57.66,522.74" fill="#fff" stroke="#a09e24" stroke-width="1.2"/>
<polygon points="85.69,542.6 81.03,545.99 82.81,551.46 88.57,551.46 90.35,545.99" fill="#fff" stroke="#a09e24" stroke-width="1.2"/>
<polygon points="118.37,564.35 113.71,567.74 115.49,573.21 121.25,573.21 123.03,567.74" fill="#fff" stroke="#a09e24" stroke-width="1.2"/>
<polygon points="151.06,584.35 146.4,587.74 148.18,593.21 153.94,593.21 155.72,587.74" fill="#fff" stroke="#a09e24" stroke-width="1.2"/>
<polygon points="183.74,602.1 179.08,605.49 180.86,610.96 186.62,610.96 188.4,605.49" fill="#fff" stroke="#a09e24" stroke-width="1.2"/>
<polygon points="216.43,619.35 211.77,622.74 213.55,628.21 219.31,628.21 221.09,622.74" fill="#fff" stroke="#a09e24" stroke-width="1.2"/>
<polygon points="249.11,634.6 244.45,637.99 246.23,643.46 251.99,643.46 253.77,637.99" fill="#fff" stroke="#a09e24" stroke-width="1.2"/>
<polygon points="281.8,647.85 277.14,651.24 278.92,656.71 284.68,656.71 286.46,651.24" fill="#fff" stroke="#a09e24" stroke-width="1.2"/>
<polygon points="314.49,660.85 309.83,664.24 311.61,669.71 317.37,669.71 319.15,664.24" fill="#fff" stroke="#a09e24" stroke-width="1.2"/>
<polygon points="347.17,672.1 342.51,675.49 344.29,680.96 350.05,680.96 351.83,675.49" fill="#fff" stroke="#a09e24" stroke-width="1.2"/>
<polygon points="379.86,682.1 375.2,685.49 376.98,690.96 382.74,690.96 384.52,685.49" fill="#fff" stroke="#a09e24" stroke-width="1.2"/>
<polygon points="412.54,692 407.88,695.39 409.66,700.86 415.42,700.86 417.2,695.39" fill="#fff" stroke="#a09e24" stroke-width="1.2"/>
<polygon points="445.23,700.6 440.57,703.99 442.35,709.46 448.11,709.46 449.89,703.99" fill="#fff" stroke="#a09e24" stroke-width="1.2"/>
<polygon points="477.91,708.85 473.25,712.24 475.03,717.71 480.79,717.71 482.57,712.24" fill="#fff" stroke="#a09e24" stroke-width="1.2"/>
<polygon points="510.6,716.35 505.94,719.74 507.72,725.21 513.48,725.21 515.26,719.74" fill="#a09e24" stroke="#a09e24" stroke-width="1.2"/>
<circle cx="151.06" cy="753.75" r="4.2" fill="#ec3a30" stroke="#ec3a30" stroke-width="1.2"/>
<polygon points="281.8,741.05 287,746.25 281.8,751.45 276.6,746.25" fill="#a86cd8" stroke="#a86cd8" stroke-width="1.2"/>
<path d="M53,747C58.45,747 74.79,747 85.69,747C96.58,747 107.48,747 118.37,747C129.27,747 140.16,747 151.06,747C161.95,747 172.85,747 183.74,747C194.64,747 205.53,747 216.43,747C227.32,747 238.22,747 249.11,747C260.01,747 270.9,747 281.8,747C292.7,747 303.59,747 314.49,747C325.38,747 336.28,747 347.17,747C358.07,747 368.96,747 379.86,747C390.75,747 401.65,747 412.54,747C423.44,747 434.33,747 445.23,747C456.12,747 467.02,747 477.91,747C488.81,747 505.15,747 510.6,747" fill="none" stroke="#000" stroke-width="1.45" stroke-dasharray="2.8,2.0"/>
<polygon points="50.13,742 58.73,747 50.13,752" fill="#000" stroke="#000" stroke-width="1.1"/><polygon points="51.23,743.6 53,744.57 53,749.43 51.23,750.4" fill="#fff"/>
<polygon points="82.82,742 91.42,747 82.82,752" fill="#000" stroke="#000" stroke-width="1.1"/><polygon points="83.92,743.6 85.69,744.57 85.69,749.43 83.92,750.4" fill="#fff"/>
<polygon points="115.5,742 124.1,747 115.5,752" fill="#000" stroke="#000" stroke-width="1.1"/><polygon points="116.6,743.6 118.37,744.57 118.37,749.43 116.6,750.4" fill="#fff"/>
<polygon points="148.19,742 156.79,747 148.19,752" fill="#000" stroke="#000" stroke-width="1.1"/><polygon points="149.29,743.6 151.06,744.57 151.06,749.43 149.29,750.4" fill="#fff"/>
<polygon points="180.88,742 189.48,747 180.88,752" fill="#000" stroke="#000" stroke-width="1.1"/><polygon points="181.98,743.6 183.74,744.57 183.74,749.43 181.98,750.4" fill="#fff"/>
<polygon points="213.56,742 222.16,747 213.56,752" fill="#000" stroke="#000" stroke-width="1.1"/><polygon points="214.66,743.6 216.43,744.57 216.43,749.43 214.66,750.4" fill="#fff"/>
<polygon points="246.25,742 254.85,747 246.25,752" fill="#000" stroke="#000" stroke-width="1.1"/><polygon points="247.35,743.6 249.11,744.57 249.11,749.43 247.35,750.4" fill="#fff"/>
<polygon points="278.93,742 287.53,747 278.93,752" fill="#000" stroke="#000" stroke-width="1.1"/><polygon points="280.03,743.6 281.8,744.57 281.8,749.43 280.03,750.4" fill="#fff"/>
<polygon points="311.62,742 320.22,747 311.62,752" fill="#000" stroke="#000" stroke-width="1.1"/><polygon points="312.72,743.6 314.49,744.57 314.49,749.43 312.72,750.4" fill="#fff"/>
<polygon points="344.3,742 352.9,747 344.3,752" fill="#000" stroke="#000" stroke-width="1.1"/><polygon points="345.4,743.6 347.17,744.57 347.17,749.43 345.4,750.4" fill="#fff"/>
<polygon points="376.99,742 385.59,747 376.99,752" fill="#000" stroke="#000" stroke-width="1.1"/><polygon points="378.09,743.6 379.86,744.57 379.86,749.43 378.09,750.4" fill="#fff"/>
<polygon points="409.68,742 418.28,747 409.68,752" fill="#000" stroke="#000" stroke-width="1.1"/><polygon points="410.78,743.6 412.54,744.57 412.54,749.43 410.78,750.4" fill="#fff"/>
<polygon points="442.36,742 450.96,747 442.36,752" fill="#000" stroke="#000" stroke-width="1.1"/><polygon points="443.46,743.6 445.23,744.57 445.23,749.43 443.46,750.4" fill="#fff"/>
<polygon points="475.05,742 483.65,747 475.05,752" fill="#000" stroke="#000" stroke-width="1.1"/><polygon points="476.15,743.6 477.91,744.57 477.91,749.43 476.15,750.4" fill="#fff"/>
<polygon points="507.73,742 516.33,747 507.73,752" fill="#000" stroke="#000" stroke-width="1.1"/><polygon points="508.83,743.6 510.6,744.57 510.6,749.43 508.83,750.4" fill="#fff"/>
</g>
<rect x="53" y="505.1" width="457.6" height="369.1" fill="none" stroke="#000" stroke-width="2"/>
<text x="45.3" y="510.3" text-anchor="end" class="tl">90</text>
<text x="45.3" y="556.44" text-anchor="end" class="tl">80</text>
<text x="45.3" y="602.58" text-anchor="end" class="tl">70</text>
<text x="45.3" y="648.71" text-anchor="end" class="tl">60</text>
<text x="45.3" y="694.85" text-anchor="end" class="tl">50</text>
<text x="45.3" y="740.99" text-anchor="end" class="tl">40</text>
<text x="45.3" y="787.13" text-anchor="end" class="tl">30</text>
<text x="45.3" y="833.26" text-anchor="end" class="tl">20</text>
<text x="45.3" y="879.4" text-anchor="end" class="tl">10</text>
<text x="51" y="412.2" text-anchor="middle" class="tl">0.3</text>
<text x="83.67" y="412.2" text-anchor="middle" class="tl">0.4</text>
<text x="116.34" y="412.2" text-anchor="middle" class="tl">0.5</text>
<text x="149.01" y="412.2" text-anchor="middle" class="tl">0.6</text>
<text x="181.69" y="412.2" text-anchor="middle" class="tl">0.7</text>
<text x="214.36" y="412.2" text-anchor="middle" class="tl">0.8</text>
<text x="247.03" y="412.2" text-anchor="middle" class="tl">0.9</text>
<text x="279.7" y="412.2" text-anchor="middle" class="tl">1.0</text>
<text x="312.37" y="412.2" text-anchor="middle" class="tl">1.1</text>
<text x="345.04" y="412.2" text-anchor="middle" class="tl">1.2</text>
<text x="377.71" y="412.2" text-anchor="middle" class="tl">1.3</text>
<text x="410.39" y="412.2" text-anchor="middle" class="tl">1.4</text>
<text x="443.06" y="412.2" text-anchor="middle" class="tl">1.5</text>
<text x="475.73" y="412.2" text-anchor="middle" class="tl">1.6</text>
<text x="508.4" y="412.2" text-anchor="middle" class="tl">1.7</text>
<text x="53" y="894.6" text-anchor="middle" class="tl">0.3</text>
<text x="85.69" y="894.6" text-anchor="middle" class="tl">0.4</text>
<text x="118.37" y="894.6" text-anchor="middle" class="tl">0.5</text>
<text x="151.06" y="894.6" text-anchor="middle" class="tl">0.6</text>
<text x="183.74" y="894.6" text-anchor="middle" class="tl">0.7</text>
<text x="216.43" y="894.6" text-anchor="middle" class="tl">0.8</text>
<text x="249.11" y="894.6" text-anchor="middle" class="tl">0.9</text>
<text x="281.8" y="894.6" text-anchor="middle" class="tl">1.0</text>
<text x="314.49" y="894.6" text-anchor="middle" class="tl">1.1</text>
<text x="347.17" y="894.6" text-anchor="middle" class="tl">1.2</text>
<text x="379.86" y="894.6" text-anchor="middle" class="tl">1.3</text>
<text x="412.54" y="894.6" text-anchor="middle" class="tl">1.4</text>
<text x="445.23" y="894.6" text-anchor="middle" class="tl">1.5</text>
<text x="477.91" y="894.6" text-anchor="middle" class="tl">1.6</text>
<text x="510.6" y="894.6" text-anchor="middle" class="tl">1.7</text>
</svg>
</body></html>
